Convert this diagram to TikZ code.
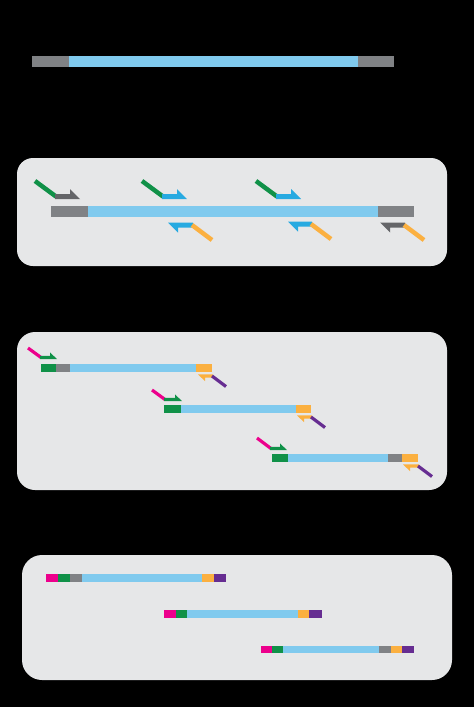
\documentclass[tikz,border=0pt]{standalone}
\usepackage{xcolor}
\usepackage{tikz}
\usetikzlibrary{calc}
\definecolor{panel}{RGB}{230,231,232}
\definecolor{bargray}{RGB}{128,130,133}
\definecolor{hookgray}{RGB}{100,101,104}
\definecolor{barblue}{RGB}{128,202,238}
\definecolor{hookblue}{RGB}{39,170,225}
\definecolor{pgreen}{RGB}{16,145,72}
\definecolor{porange}{RGB}{251,176,64}
\definecolor{pmagenta}{RGB}{236,0,140}
\definecolor{ppurple}{RGB}{102,45,145}
% half width, head length, barb of the primer hooks
\def\hw{2.5}
\def\hl{10}
\def\hb{5}
% forward hook: from #1 to the tip #2 at height #3
\newcommand{\fwdhook}[4]{\fill[#4] (#1,{#3-\hw}) -- ({#2-\hl},{#3-\hw}) -- ({#2-\hl},{#3-\hw-\hb}) -- (#2,{#3+\hw}) -- (#1,{#3+\hw}) -- cycle;}
% reverse hook: tip #1 on the left, end #2 on the right
\newcommand{\revhook}[4]{\fill[#4] (#2,{#3-\hw}) -- (#1,{#3-\hw}) -- ({#1+\hl},{#3+\hw+\hb}) -- ({#1+\hl},{#3+\hw}) -- (#2,{#3+\hw}) -- cycle;}
\tikzset{tail/.style={line width=4.5pt}}
\begin{document}
\begin{tikzpicture}[x=1pt,y=-1pt]
\fill[black] (0,0) rectangle (474,707);
\useasboundingbox (0,0) rectangle (474,707);
% template
\foreach \a/\b/\c in {32/69/bargray,69/358/barblue,358/394/bargray}
  \fill[\c] (\a,56) rectangle (\b,67);
% first panel: primers on the template
\fill[panel,rounded corners=16] (17,158) rectangle (447,266);
\foreach \a/\b/\c in {51/88/bargray,88/378/barblue,378/414/bargray}
  \fill[\c] (\a,206) rectangle (\b,217);
\draw[tail,pgreen] (35,181) -- (56,196.5);
\fwdhook{55}{80}{196.5}{hookgray}
\draw[tail,pgreen] (142,181) -- (163,196.5);
\fwdhook{162}{187}{196.5}{hookblue}
\draw[tail,pgreen] (256,181) -- (277,196.5);
\fwdhook{276}{301}{196.5}{hookblue}
\revhook{168}{193}{225}{hookblue}
\draw[tail,porange] (192,225) -- (212,240);
\revhook{288}{312}{224}{hookblue}
\draw[tail,porange] (311,224) -- (331,239);
\revhook{380}{405}{225}{hookgray}
\draw[tail,porange] (404,225) -- (424,240);
% second panel: tagged products
\begin{scope}
\def\hw{1.7}\def\hl{7}\def\hb{3.5}
\tikzset{tail/.style={line width=3.2pt}}
\fill[panel,rounded corners=18] (17,332) rectangle (447,490);
% row 1
\foreach \a/\b/\c in {41/56/pgreen,56/70/bargray,70/196/barblue,196/212/porange}
  \fill[\c] (\a,364) rectangle (\b,372);
\draw[tail,pmagenta] (28,348) -- (41,357.5);
\fwdhook{40}{57}{357.5}{pgreen}
\revhook{198}{213}{376}{porange}
\draw[tail,ppurple] (212,376) -- (226,386.5);
% row 2
\foreach \a/\b/\c in {164/181/pgreen,181/296/barblue,296/311/porange}
  \fill[\c] (\a,405) rectangle (\b,413);
\draw[tail,pmagenta] (152,390) -- (165,399.5);
\fwdhook{164}{182}{399.5}{pgreen}
\revhook{297}{312}{417}{porange}
\draw[tail,ppurple] (311,417) -- (325,427.5);
% row 3
\foreach \a/\b/\c in {272/288/pgreen,288/388/barblue,388/402/bargray,402/418/porange}
  \fill[\c] (\a,454) rectangle (\b,462);
\draw[tail,pmagenta] (257,438) -- (271,448.5);
\fwdhook{270}{287}{448.5}{pgreen}
\revhook{403}{419}{466}{porange}
\draw[tail,ppurple] (418,466) -- (432,476.5);
\end{scope}
% third panel: final products
\fill[panel,rounded corners=20] (22,555) rectangle (452,680);
\foreach \a/\b/\c in {46/58/pmagenta,58/70/pgreen,70/82/bargray,82/202/barblue,202/214/porange,214/226/ppurple}
  \fill[\c] (\a,574) rectangle (\b,582);
\foreach \a/\b/\c in {164/176/pmagenta,176/187/pgreen,187/298/barblue,298/309/porange,309/322/ppurple}
  \fill[\c] (\a,610) rectangle (\b,618);
\foreach \a/\b/\c in {261/272/pmagenta,272/283/pgreen,283/379/barblue,379/391/bargray,391/402/porange,402/414/ppurple}
  \fill[\c] (\a,646) rectangle (\b,653);
\end{tikzpicture}
\end{document}
